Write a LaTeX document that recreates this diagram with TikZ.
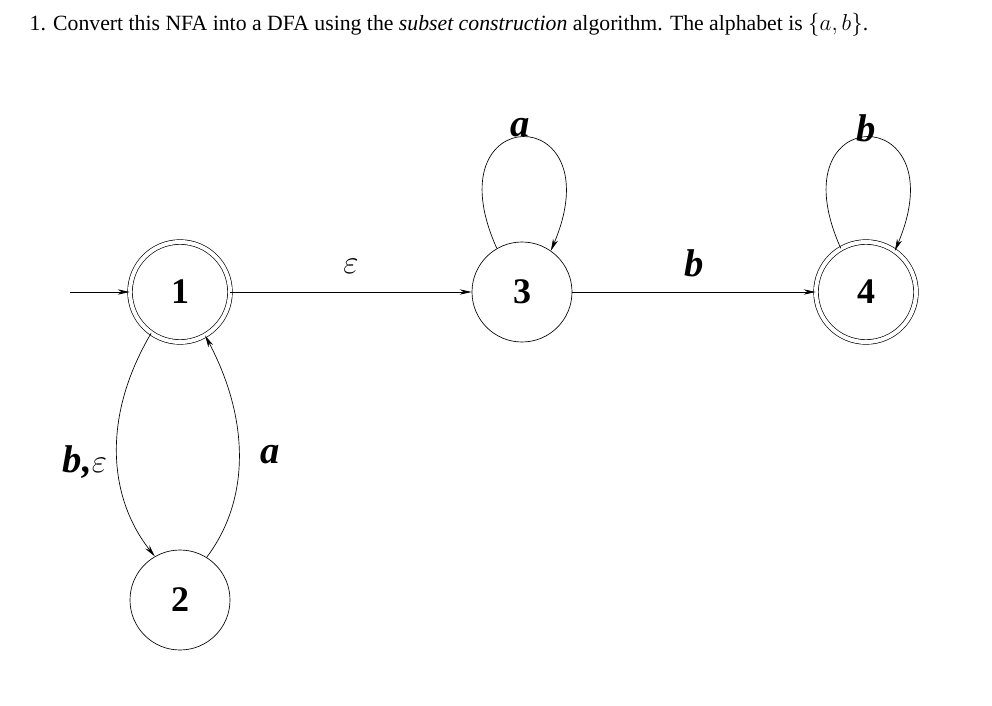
\documentclass[tikz,border=0pt]{standalone}
\usepackage{fontspec}
\setmainfont{Liberation Serif}
\usetikzlibrary{arrows.meta}
\begin{document}
\begin{tikzpicture}[x=0.75pt,y=-0.75pt,
  st/.style={circle,draw,line width=0.5pt,minimum size=75pt,inner sep=0pt,font=\fontsize{27}{29}\selectfont\bfseries},
  acc/.style={st,double,double distance=3pt},
  lab/.style={font=\fontsize{29}{31}\selectfont\bfseries\itshape},
  tr/.style={line width=0.5pt,-{Stealth[length=9pt,width=4pt]}}]
\useasboundingbox (0,0) rectangle (992,706);
\node[anchor=west,font=\fontsize{16.3}{19}\selectfont] (t) at (25,25) {1. Convert this NFA into a DFA using the \textit{subset construction} algorithm. The alphabet is $\{a,b\}$.};
\node[acc] (n1) at (180,292) {1};
\node[st] (n3) at (522,292) {3};
\node[acc] (n4) at (866,292) {4};
\node[st] (n2) at (180,600) {2};
\coordinate (s) at (70,292);
\draw[tr] (s) -- (n1);
\draw[tr] (n1) -- node[above=10pt,font=\fontsize{26}{28}\selectfont] {$\varepsilon$} (n3);
\draw[tr] (n3) -- node[lab,above=8pt] {b} (n4);
\draw[tr] (n3.120) .. controls (430,100) and (615,100) .. (n3.55);
\draw[tr] (n4.120) .. controls (774,100) and (959,100) .. (n4.55);
\node[lab] (la) at (520,128) {a};
\node[lab] (lb) at (866,128) {b};
\draw[tr] (n1.235) .. controls (100,420) and (110,500) .. (n2.120);
\draw[tr] (n2.58) .. controls (250,500) and (250,420) .. (n1.-60);
\node[lab] (l1) at (85,462) {b,$\varepsilon$};
\node[lab] (l2) at (270,455) {a};
\end{tikzpicture}
\end{document}
